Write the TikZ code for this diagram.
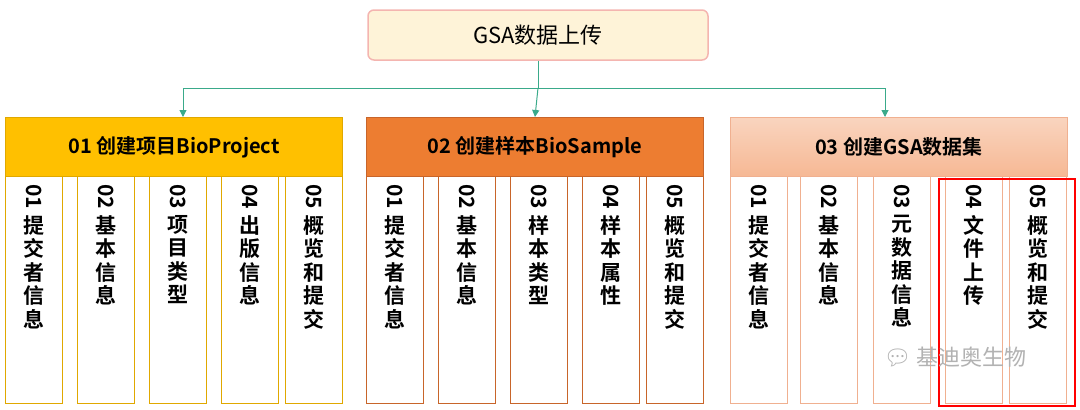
\documentclass[tikz,border=0pt]{standalone}
\usepackage{fontspec}
\setmainfont{Noto Sans CJK SC}[BoldFont={Noto Sans CJK SC Bold}]
\newfontfamily\emo{Noto Emoji}
\usetikzlibrary{arrows.meta}
\definecolor{teal}{HTML}{3AAA8A}
\definecolor{g1}{HTML}{FFC000}\definecolor{g1d}{HTML}{E0A800}
\definecolor{g2}{HTML}{ED7D31}\definecolor{g2d}{HTML}{C8652A}
\definecolor{g3}{HTML}{F6B894}\definecolor{g3d}{HTML}{F0B090}
\definecolor{tfill}{HTML}{FEF3D8}\definecolor{tdraw}{HTML}{F4B5B0}
\tikzset{
 hdr/.style={draw=#1, line width=1pt, minimum height=59pt, minimum width=337pt, anchor=north west, inner sep=0pt, font=\bfseries\fontsize{20}{22}\selectfont},
 col/.style={draw=#1, line width=1pt, fill=white, minimum height=227pt, minimum width=57pt, anchor=north west},
 vt/.style={anchor=north, align=center, font=\bfseries\fontsize{21}{23.5}\selectfont, inner sep=0pt},
 vn/.style={anchor=west, rotate=-90, font=\bfseries\fontsize{21}{23}\selectfont, inner sep=0pt},
 arr/.style={teal, line width=1pt, -{Triangle[length=7pt,width=7pt]}}
}
\begin{document}
\begin{tikzpicture}[x=1pt,y=-1pt]
\useasboundingbox (0,0) rectangle (1080,410);
\node[draw=tdraw, line width=1.5pt, fill=tfill, rounded corners=6pt, minimum width=340pt, minimum height=50pt, font=\fontsize{22}{24}\selectfont] (top) at (538,35) {GSA数据上传};
\node[hdr=g1d, fill=g1] (h1) at (5,117) {01 创建项目BioProject};
\node[hdr=g2d, fill=g2] (h2) at (366,117) {02 创建样本BioSample};
\node[hdr=g3d, top color=g3!60, bottom color=g3] (h3) at (730,117) {03 创建GSA数据集};
\coordinate (j) at (538,88);
\draw[teal, line width=1pt] (top.south) -- (j);
\draw[teal, line width=1pt] (183,88) -- (885,88);
\draw[arr] (183,88) -- (h1.north -| 183,0);
\draw[arr] (j) -- (h2.north -| 535,0);
\draw[arr] (885,88) -- (h3.north -| 885,0);
\foreach \x/\n/\t [count=\i] in {5/01/提\\交\\者\\信\\息, 77/02/基\\本\\信\\息, 149/03/项\\目\\类\\型, 221/04/出\\版\\信\\息, 285/05/概\\览\\和\\提\\交}{
 \node[col=g1d] (a\i) at (\x,176) {};
 \node[vn] (an\i) at ([yshift=-8pt]a\i.north) {\n};
 \node[vt] at ([yshift=-6pt]an\i.east) {\t};}
\foreach \x/\n/\t [count=\i] in {366/01/提\\交\\者\\信\\息, 438/02/基\\本\\信\\息, 510/03/样\\本\\类\\型, 582/04/样\\本\\属\\性, 646/05/概\\览\\和\\提\\交}{
 \node[col=g2d] (b\i) at (\x,176) {};
 \node[vn] (bn\i) at ([yshift=-8pt]b\i.north) {\n};
 \node[vt] at ([yshift=-6pt]bn\i.east) {\t};}
\foreach \x/\n/\t [count=\i] in {730/01/提\\交\\者\\信\\息, 800/02/基\\本\\信\\息, 873/03/元\\数\\据\\信\\息, 945/04/文\\件\\上\\传, 1009/05/概\\览\\和\\提\\交}{
 \node[col=g3d] (c\i) at (\x,176) {};
 \node[vn] (cn\i) at ([yshift=-8pt]c\i.north) {\n};
 \node[vt] at ([yshift=-6pt]cn\i.east) {\t};}
\node[draw=red, line width=1.5pt, minimum width=136pt, minimum height=227pt, anchor=north west] (rb) at (938,178) {};
\node[text=gray!60, font=\fontsize{22}{24}\selectfont] (wm) at (955,357) {{\emo\char"1F4AC}\ 基迪奥生物};
\end{tikzpicture}
\end{document}
